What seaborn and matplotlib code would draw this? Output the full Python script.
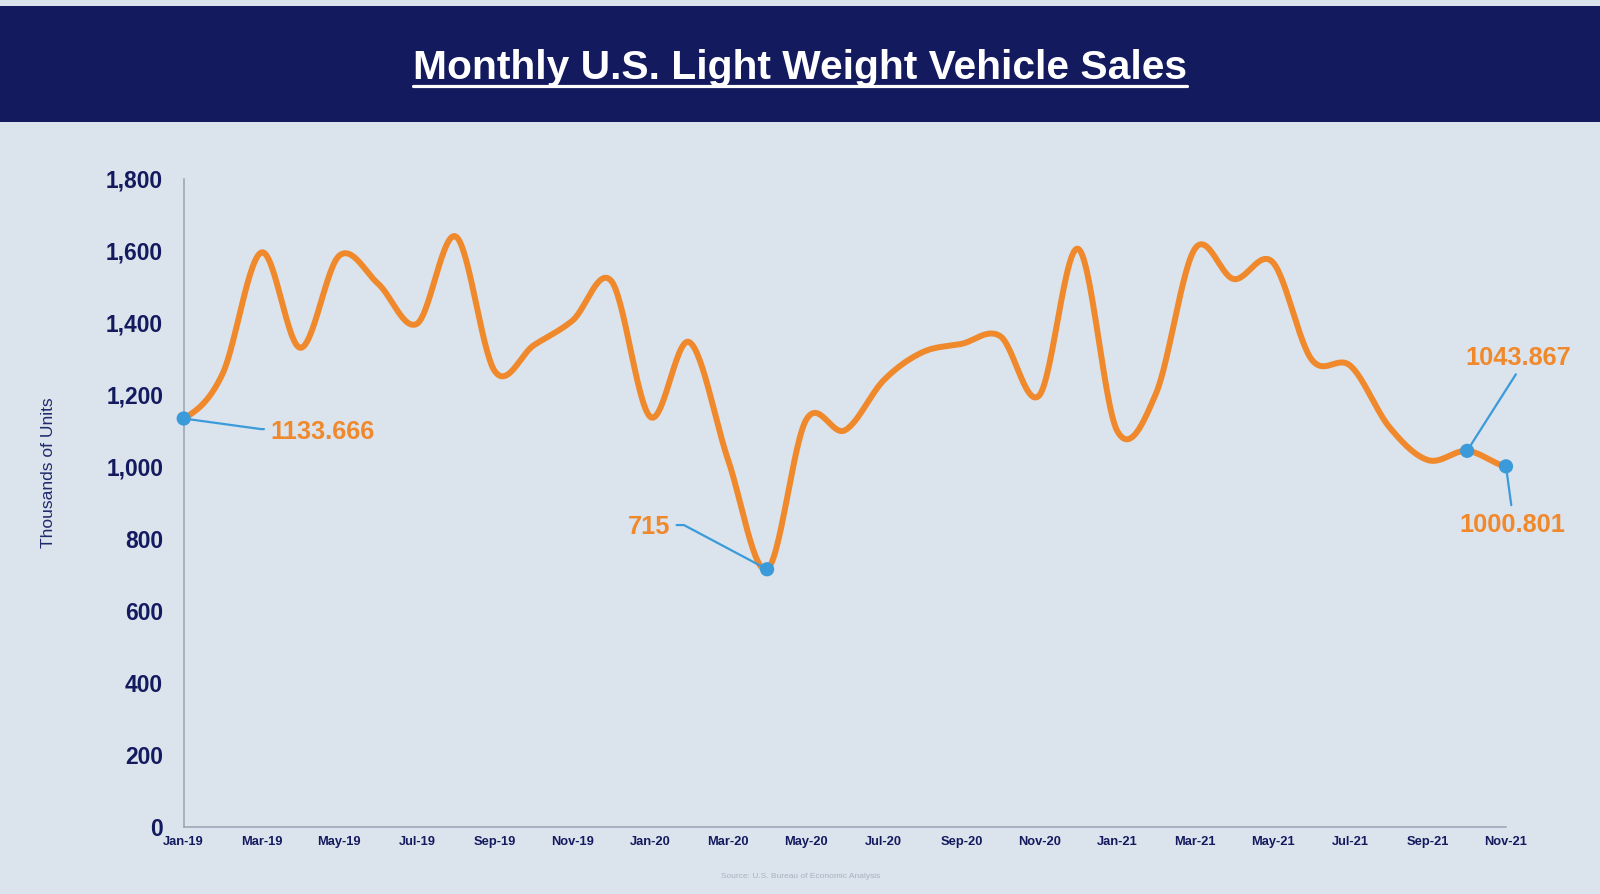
import numpy as np
import pandas as pd
import matplotlib
matplotlib.use("Agg")
import matplotlib.pyplot as plt
import seaborn as sns
from matplotlib.lines import Line2D
from matplotlib.patches import Rectangle

# ---------------- data ----------------
months = ['Jan-19', 'Feb-19', 'Mar-19', 'Apr-19', 'May-19', 'Jun-19', 'Jul-19', 'Aug-19',
          'Sep-19', 'Oct-19', 'Nov-19', 'Dec-19', 'Jan-20', 'Feb-20', 'Mar-20', 'Apr-20',
          'May-20', 'Jun-20', 'Jul-20', 'Aug-20', 'Sep-20', 'Oct-20', 'Nov-20', 'Dec-20',
          'Jan-21', 'Feb-21', 'Mar-21', 'Apr-21', 'May-21', 'Jun-21', 'Jul-21', 'Aug-21',
          'Sep-21', 'Oct-21', 'Nov-21']
sales = [1133.666, 1258, 1595, 1330, 1586, 1508, 1397, 1639,
         1265, 1337, 1406, 1515, 1138, 1346, 1018, 715,
         1129, 1101, 1240, 1318, 1341, 1362, 1198, 1605,
         1100, 1203, 1605, 1521, 1568, 1298, 1280, 1110,
         1018, 1043.867, 1000.801]
tick_labels = ['Jan-19', 'Mar-19', 'May-19', 'Jul-19', 'Sep-19', 'Nov-19', 'Jan-20', 'Mar-20',
               'May-20', 'Jul-20', 'Sep-20', 'Nov-20', 'Jan-21', 'Mar-21', 'May-21', 'Jul-21',
               'Sep-21', 'Nov-21']
y_ticks = [0, 200, 400, 600, 800, 1000, 1200, 1400, 1600, 1800]
highlight_months = ['Jan-19', 'Apr-20', 'Oct-21', 'Nov-21']
highlight_labels = ['1133.666', '715', '1043.867', '1000.801']

title = 'Monthly U.S. Light Weight Vehicle Sales'
y_title = 'Thousands of Units'
source = 'Source: U.S. Bureau of Economic Analysis'

# ---------------- style ----------------
BG = '#dbe3ed'
NAVY = '#131a5e'
ORANGE = '#ef892c'
BLUE = '#3b9ad9'
SPINE = '#9aa1b3'

sns.set_theme(style='white')
plt.rcParams['font.family'] = ['Liberation Sans', 'DejaVu Sans']

W, H = 1600, 894
fig = plt.figure(figsize=(W / 100, H / 100), dpi=100, facecolor=BG)

# banner
fig.patches.append(Rectangle((0, 1 - 122 / H), 1, (122 - 6) / H, transform=fig.transFigure,
                             facecolor=NAVY, edgecolor='none', zorder=0))
t = fig.text(0.5, 1 - 79.3 / H, title, ha='center', va='baseline', color='white',
             fontsize=29.3, fontweight='bold')

ax = fig.add_axes([183.7 / W, 1 - 826.7 / H, (1506 - 183.7) / W, (826.7 - 178.6) / H])
ax.set_facecolor(BG)

# smooth (Catmull-Rom) rendering of the monthly series
x_idx = np.arange(len(months), dtype=float)
y_arr = np.asarray(sales, dtype=float)
m = np.empty_like(y_arr)
m[1:-1] = (y_arr[2:] - y_arr[:-2]) / 2
m[0] = (y_arr[1] - y_arr[0]) / 2
m[-1] = (y_arr[-1] - y_arr[-2]) / 2
xs, ys = [], []
tt = np.linspace(0, 1, 30, endpoint=False)
for i in range(len(y_arr) - 1):
    h00 = 2 * tt**3 - 3 * tt**2 + 1
    h10 = tt**3 - 2 * tt**2 + tt
    h01 = -2 * tt**3 + 3 * tt**2
    h11 = tt**3 - tt**2
    xs.extend(x_idx[i] + tt)
    ys.extend(h00 * y_arr[i] + h10 * m[i] + h01 * y_arr[i + 1] + h11 * m[i + 1])
xs.append(x_idx[-1])
ys.append(y_arr[-1])
curve = pd.DataFrame({'x': xs, 'y': ys})

sns.lineplot(data=curve, x='x', y='y', ax=ax, color=ORANGE, linewidth=4.3,
             sort=False, estimator=None, zorder=3, clip_on=False)
for ln in ax.lines:
    ln.set_solid_capstyle('round')
    ln.set_solid_joinstyle('round')

hl = pd.DataFrame({'x': [months.index(mm) for mm in highlight_months],
                   'y': [sales[months.index(mm)] for mm in highlight_months],
                   'label': highlight_labels})
sns.scatterplot(data=hl, x='x', y='y', ax=ax, color=BLUE, s=105, edgecolor='none',
                zorder=6, clip_on=False)

# annotation layout (offsets in pixels from the data point)
ann_layout = [
    ((86.3, -10.5), 'left', 'center_baseline', (0, 0.6), 'angle,angleA=0,angleB=-7.8,rad=0', 2),
    ((-96.5, 44.3), 'right', 'center_baseline', (1, 0.6), 'angle,angleA=0,angleB=152,rad=0', 2),
    ((51.6, 86.0), 'center', 'baseline', (0.5, 0), 'arc3,rad=0', 1),
    ((6.3, -65.2), 'center', 'baseline', (0.5, 1), 'arc3,rad=0', 3),
]
for (_, row), (off, ha, va, rp, cs, sa) in zip(hl.iterrows(), ann_layout):
    ax.annotate(row['label'], xy=(row['x'], row['y']), xytext=off, textcoords='offset pixels',
                ha=ha, va=va, color=ORANGE, fontsize=18.3, fontweight='bold', zorder=5,
                annotation_clip=False,
                arrowprops=dict(arrowstyle='-', color=BLUE, lw=1.6, relpos=rp,
                                connectionstyle=cs, shrinkA=sa, shrinkB=0))

ax.set_xlim(0, len(months) - 1)
ax.set_ylim(0, 1800)
ax.set_xticks([months.index(lb) for lb in tick_labels])
ax.set_xticklabels(tick_labels)
ax.set_yticks(y_ticks)
ax.set_yticklabels([f'{v:,}' for v in y_ticks])
ax.set_xlabel('')
ax.set_ylabel('')

for s in ['top', 'right']:
    ax.spines[s].set_visible(False)
for s in ['left', 'bottom']:
    ax.spines[s].set_color(SPINE)
    ax.spines[s].set_linewidth(1.1)

ax.tick_params(axis='y', direction='in', length=5, width=1, color=SPINE, pad=14.9,
               labelsize=16.4, labelcolor=NAVY)
ax.tick_params(axis='x', direction='in', length=3.5, width=1, color=SPINE, pad=6.5,
               labelsize=9.3, labelcolor=NAVY)
for lab in ax.get_xticklabels() + ax.get_yticklabels():
    lab.set_fontweight('bold')

fig.text(49 / W, 1 - 473 / H, y_title, rotation=90, ha='center', va='center',
         color='#1f2a6b', fontsize=12.5)
fig.text(801 / W, 1 - 876 / H, source, ha='center', va='center', color='#a9b1c0', fontsize=6)

# title underline matching the title width
fig.canvas.draw()
bb = t.get_window_extent()
fig.lines.append(Line2D([bb.x0 / W, bb.x1 / W], [1 - 85.5 / H, 1 - 85.5 / H],
                        transform=fig.transFigure, color='white', linewidth=2.3))

fig.savefig('out.png', dpi=100, facecolor=BG)
